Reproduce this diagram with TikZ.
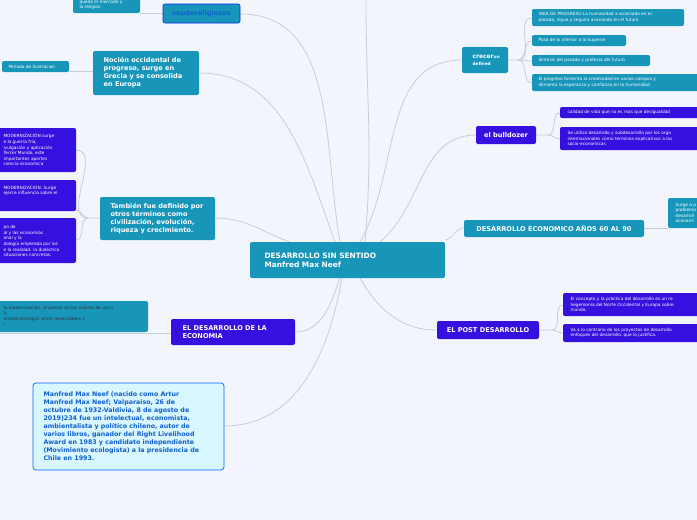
\documentclass[tikz,border=0pt]{standalone}
\usepackage{fontspec}
\setmainfont{DejaVu Sans}
\begin{document}
\begin{tikzpicture}[x=1pt,y=-1pt,
  teal/.style={fill=tealc,rounded corners=2pt,text=white,inner sep=0pt},
  purp/.style={fill=purpc,rounded corners=2pt,text=white,inner sep=0pt},
  sm/.style={font=\fontsize{4.3}{5.6}\selectfont,align=left,anchor=west,text=white},
  big/.style={font=\fontsize{6.6}{8}\selectfont\bfseries,align=left,anchor=west,text=white},
  con/.style={draw=linec,line width=0.8pt}]
\definecolor{tealc}{HTML}{1796BA}
\definecolor{purpc}{HTML}{3510DE}
\definecolor{linec}{HTML}{C8CCD8}
\definecolor{bgc}{HTML}{F3F5FD}
\definecolor{bluet}{HTML}{1060D0}
\useasboundingbox (0,0) rectangle (697,520);
\clip (0,0) rectangle (697,520);
\fill[bgc] (0,0) rectangle (697,520);
% connectors
\coordinate (topend) at (366,0);
\coordinate (c) at (348,260);
\draw[con] (365,242) to[out=85,in=-90] (topend);
\draw[con] (340,242) to[out=100,in=0] (240,14);
\draw[con] (335,242) to[out=110,in=0] (199,73);
\draw[con] (290,242) to[out=160,in=0] (215,218);
\draw[con] (340,278) to[out=-110,in=0] (295,332);
\draw[con] (342,278) to[out=-100,in=0] (224,426);
\draw[con] (360,242) to[out=60,in=180] (462,60);
\draw[con] (380,242) to[out=40,in=180] (476,135);
\draw[con] (445,240) to[out=10,in=180] (464,228);
\draw[con] (360,278) to[out=-60,in=180] (437,330);
% sub connectors
\draw[con] (140,13) -- (163,13);
\draw[con] (69,71) -- (93,71);
\draw[con] (100,218) -- (88,218) to[out=180,in=0] (76,150);
\draw[con] (88,218) to[out=180,in=0] (76,210);
\draw[con] (88,218) to[out=180,in=0] (76,240);
\draw[con] (0,333) -- (171,333);
\draw[con] (508,60) -- (518,60) to[out=0,in=180] (532,18);
\draw[con] (518,60) to[out=0,in=180] (532,41);
\draw[con] (518,60) to[out=0,in=180] (532,61);
\draw[con] (518,60) to[out=0,in=180] (532,83);
\draw[con] (536,135) -- (548,135) to[out=0,in=180] (560,113);
\draw[con] (548,135) to[out=0,in=180] (560,139);
\draw[con] (644,228) -- (668,228);
\draw[con] (539,330) -- (552,330) to[out=0,in=180] (563,305);
\draw[con] (552,330) to[out=0,in=180] (563,333);
% central
\fill[teal] (250,242) rectangle (445,278);
\node[big,font=\fontsize{7.4}{9}\selectfont\bfseries] (central) at (261,260) {DESARROLLO SIN SENTIDO\\Manfred Max Neef};
% top left
\fill[teal] (73,-3) rectangle (140,13);
\node[sm] (qm) at (76,5) {queda el mercado y\\la religion};
\draw[teal,draw=blue!70!tealc,line width=0.6pt] (163,4) rectangle (240,23);
\node[big,text=bluet,anchor=center] (seudo) at (201.5,14) {seudoreligiosos};
\fill[teal] (93,51) rectangle (199,95);
\node[big] (nocion) at (100,73) {Noción occidental de\\progreso, surge en\\Grecia y se consolida\\en Europa};
\fill[teal] (2,61) rectangle (69,72);
\node[sm] (ilus) at (5,66.5) {Periodo de Ilustracion};
\fill[teal] (100,197) rectangle (215,240);
\node[big] (tamb) at (107,218.5) {También fue definido por\\otros términos como\\civilización, evolución,\\riqueza y crecimiento.};
\fill[purp] (-5,128) rectangle (76,172);
\node[sm] (m1) at (0,150) {MODERNIZACIÓN:surge\\e la guerra fría,\\ivulgación y aplicación\\Tercer Mundo, este\\importantes aportes\\ciencia economica};
\fill[purp] (-5,180) rectangle (76,211);
\node[sm] (m2) at (0,191) {MODERNIZACION: Surge\\ejerce influencia sobre el};
\fill[purp] (-5,218) rectangle (76,263);
\node[sm] (m3) at (0,241) {po de\\al y las economías\\onal y la\\dología empleada por los\\e la realidad: la dialéctica\\situaciones concretas.};
\fill[teal] (-5,301) rectangle (148,332);
\node[sm,text=black!80] (ec) at (0,316) {la modernización, el pensar en los valores de uso y\\a\\antean distinguir entre necesidades y\\"};
\fill[purp] (171,319) rectangle (295,345);
\node[big] (eco) at (179,332) {EL DESARROLLO DE LA\\ECONOMIA};
\draw[fill=blue!20!cyan!15,draw=blue!60!cyan,rounded corners=3pt,line width=0.7pt] (33,383) rectangle (224,470);
\node[big,text=bluet,font=\fontsize{6.3}{8}\selectfont\bfseries] (manf) at (40,426.5) {Manfred Max Neef (nacido como Artur\\Manfred Max Neef; Valparaíso, 26 de\\octubre de 1932-Valdivia, 8 de agosto de\\2019)234 fue un intelectual, economista,\\ambientalista y político chileno, autor de\\varios libros, ganador del Right Livelihood\\Award en 1983 y candidato independiente\\(Movimiento ecologista) a la presidencia de\\Chile en 1993.};
% right
\fill[teal] (462,47) rectangle (508,73);
\node[big,font=\fontsize{6}{7}\selectfont\bfseries] (crec) at (469,60) {crecer{\fontsize{4.3}{5}\selectfont un}\\{\fontsize{4.3}{5}\selectfont defined}};
\fill[teal] (532,9) rectangle (684,26);
\node[sm] (r1) at (535,17.5) {IDEA DE PROGRESO La humanidad a avanzado en el\\pasado, sigue y seguira avanando en el futuro};
\fill[teal] (532,35) rectangle (626,46);
\node[sm] (r2) at (535,40.5) {Paso de lo inferior a lo Superior};
\fill[teal] (532,55) rectangle (650,66);
\node[sm] (r3) at (535,60.5) {Sintesis del pasado y profesia del futuro};
\fill[teal] (532,74) rectangle (702,91);
\node[sm] (r4) at (535,82.5) {El progreso fomenta la creatividad en varios campos y\\alimenta la esperanza y confianza en la humanidad};
\fill[purp] (476,126) rectangle (536,144);
\node[big,anchor=center] (bull) at (506,135) {el bulldozer};
\fill[purp] (560,107) rectangle (702,118);
\node[sm] (b1) at (564,112.5) {calidad de vida que no es mas que desigualdad};
\fill[purp] (560,127) rectangle (702,150);
\node[sm] (b2) at (564,138.5) {Se utilizo desarrollo y subdesarrollo por los orga\\internacionales como terminos explicativos a las\\socio-economicas};
\fill[teal] (464,220) rectangle (644,237);
\node[big,anchor=center] (dea) at (554,228.5) {DESARROLLO ECONOMICO AÑOS 60 AL 90};
\fill[teal] (668,198) rectangle (702,228);
\node[sm] (surge) at (672,213) {Surge a p\\problema\\desarroll\\economi};
\fill[purp] (437,321) rectangle (539,339);
\node[big,anchor=center] (post) at (488,330) {EL POST DESARROLLO};
\fill[purp] (563,293) rectangle (702,316);
\node[sm] (p1) at (567,304.5) {El concepto y la práctica del desarrollo es un re\\hegemonía del Norte Occidental y Europa sobre\\mundo.};
\fill[purp] (563,324) rectangle (702,342);
\node[sm] (p2) at (567,333) {Va a lo contrario de los proyectos de desarrollo\\enfoques del desarrollo, que lo justifica.};
\end{tikzpicture}
\end{document}
